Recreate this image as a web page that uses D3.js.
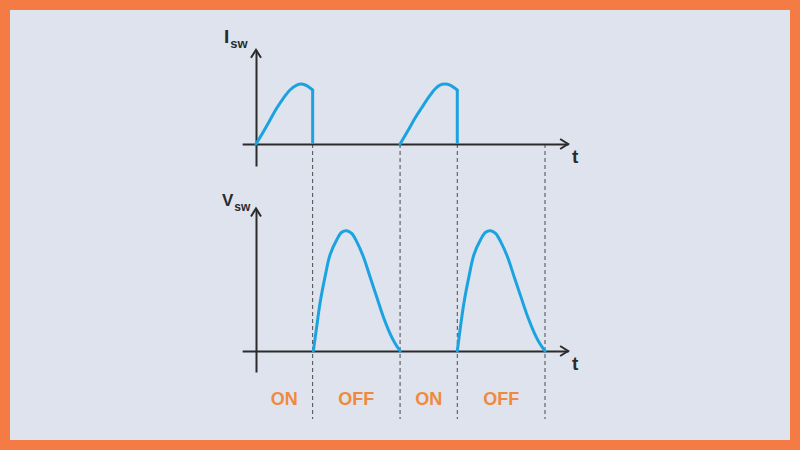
<!DOCTYPE html>
<html><head><meta charset="utf-8">
<script src="https://cdn.jsdelivr.net/npm/d3@7"></script>
<style>
html,body{margin:0;padding:0;background:#F47B43;}
svg{display:block;}
</style></head>
<body>
<svg id="chart" width="800" height="450"></svg>
<script>
// ---- data (time in arbitrary units, values normalised to peak = 1) ----
const phaseBounds = [0, 3.92, 9.97, 13.93, 20];
const phaseLabels = ["ON", "OFF", "ON", "OFF"];

// switch current pulses (rise, then abrupt drop)
const isw1 = [[0,0],[0.51,0.205],[0.97,0.40],[1.43,0.595],[1.89,0.762],[2.35,0.90],[2.82,0.983],[3.16,1.0],[3.51,0.972],[3.92,0.90]];
const isw2 = [[9.97,0],[10.54,0.233],[11.0,0.43],[11.47,0.605],[11.93,0.772],[12.39,0.917],[12.73,0.983],[13.08,1.0],[13.43,0.983],[13.93,0.90]];
const iswDrops = [[3.92,0.90],[13.93,0.90]];

// switch voltage pulses
const vsw1 = [[3.97,0],[4.20,0.202],[4.43,0.397],[4.78,0.618],[5.12,0.798],[5.58,0.923],[5.93,0.987],[6.28,1.0],[6.62,0.978],[6.97,0.909],[7.43,0.784],[7.89,0.618],[8.35,0.451],[8.81,0.285],[9.27,0.147],[9.62,0.064],[9.97,0]];
const vsw2 = [[13.93,0],[14.16,0.21],[14.39,0.40],[14.74,0.62],[15.08,0.80],[15.54,0.925],[15.89,0.987],[16.24,1.0],[16.58,0.978],[16.93,0.909],[17.40,0.784],[17.87,0.615],[18.34,0.448],[18.81,0.282],[19.28,0.145],[19.64,0.062],[20.0,0]];

const axisTDomain = [-1, 21.6];

// ---- drawing ----
const svg = d3.select("#chart");
const W = 800, H = 450, B = 10;
svg.append("rect").attr("x",0).attr("y",0).attr("width",W).attr("height",H).attr("fill","#F47B43");
svg.append("rect").attr("x",B).attr("y",B).attr("width",W-2*B).attr("height",H-2*B).attr("fill","#DFE3EE");

const x = d3.scaleLinear().domain([0,20]).range([256,545]);
const yI = d3.scaleLinear().domain([0,1]).range([144,84]);
const yV = d3.scaleLinear().domain([0,1]).range([351,230.7]);

const axisColor = "#2b2b2b";
const blue = "#1BA3E1";
const orange = "#EF8A3C";

// dashed phase boundaries
svg.append("g").selectAll("line").data(phaseBounds.slice(1)).join("line")
  .attr("x1", d=>x(d)).attr("x2", d=>x(d))
  .attr("y1", yI(0)).attr("y2", 419)
  .attr("stroke","#4a4a4a").attr("stroke-width",1)
  .attr("stroke-dasharray","4,3");

function drawAxes(yScale, yTopVal, yBottomPx, labelMain, labelSub, mainSize, subSize, labelX, labelY) {
  const y0 = yScale(0);
  const tAxis = d3.axisBottom(d3.scaleLinear().domain(axisTDomain).range([x(axisTDomain[0])+0.6, x(axisTDomain[1])]))
    .tickValues([]).tickSizeOuter(0);
  const gT = svg.append("g").attr("transform", `translate(0,${y0})`).call(tAxis);
  gT.select(".domain").attr("stroke", axisColor).attr("stroke-width", 2);
  const vScale = d3.scaleLinear().domain([yScale.invert(yBottomPx), yTopVal]).range([yBottomPx, yScale(yTopVal)]);
  const vAxis = d3.axisLeft(vScale).tickValues([]).tickSizeOuter(0);
  const gV = svg.append("g").attr("transform", `translate(${x(0)},0)`).call(vAxis);
  gV.select(".domain").attr("stroke", axisColor).attr("stroke-width", 2);
  const tx = x(axisTDomain[1]);
  svg.append("path").attr("d", `M${tx-8},${y0-5}L${tx},${y0}L${tx-8},${y0+5}`)
    .attr("fill","none").attr("stroke",axisColor).attr("stroke-width",2);
  const ty = yScale(yTopVal), vx = x(0);
  svg.append("path").attr("d", `M${vx-5},${ty+8}L${vx},${ty}L${vx+5},${ty+8}`)
    .attr("fill","none").attr("stroke",axisColor).attr("stroke-width",2);
  svg.append("text").attr("x", 572).attr("y", y0+19)
    .attr("font-family","Liberation Sans, Arial, sans-serif").attr("font-weight","bold")
    .attr("font-size",19).attr("fill",axisColor).text("t");
  const lab = svg.append("text").attr("x", labelX).attr("y", labelY)
    .attr("font-family","Liberation Sans, Arial, sans-serif").attr("font-weight","bold")
    .attr("fill",axisColor);
  lab.append("tspan").attr("font-size", mainSize).text(labelMain);
  lab.append("tspan").attr("font-size", subSize).attr("dx", 1).attr("dy", 5).text(labelSub);
}

drawAxes(yI, 1.57, 166, "I", "sw", 19, 13, 224, 43);
drawAxes(yV, 1.185, 372, "V", "sw", 17, 12, 222, 205.5);

// curves
const lineI = d3.line().x(d=>x(d[0])).y(d=>yI(d[1])).curve(d3.curveCatmullRom.alpha(0.5));
const lineV = d3.line().x(d=>x(d[0])).y(d=>yV(d[1])).curve(d3.curveCatmullRom.alpha(0.5));
const lineLin = d3.line().x(d=>x(d[0])).y(d=>yI(d[1]));

[isw1, isw2].forEach(p => {
  svg.append("path").attr("d", lineI(p)).attr("fill","none").attr("stroke",blue)
    .attr("stroke-width",3).attr("stroke-linecap","round").attr("stroke-linejoin","round");
});
iswDrops.forEach(d => {
  svg.append("path").attr("d", lineLin([d, [d[0], 0]])).attr("fill","none").attr("stroke",blue)
    .attr("stroke-width",3).attr("stroke-linecap","butt");
});
[vsw1, vsw2].forEach(p => {
  svg.append("path").attr("d", lineV(p)).attr("fill","none").attr("stroke",blue)
    .attr("stroke-width",3).attr("stroke-linecap","round").attr("stroke-linejoin","round");
});

// phase labels
svg.append("g").selectAll("text").data(phaseLabels).join("text")
  .attr("x", (d,i)=>x((phaseBounds[i]+phaseBounds[i+1])/2))
  .attr("y", 405)
  .attr("text-anchor","middle")
  .attr("font-family","Liberation Sans, Arial, sans-serif").attr("font-weight","bold")
  .attr("font-size",18).attr("fill",orange)
  .text(d=>d);
</script>
</body></html>
